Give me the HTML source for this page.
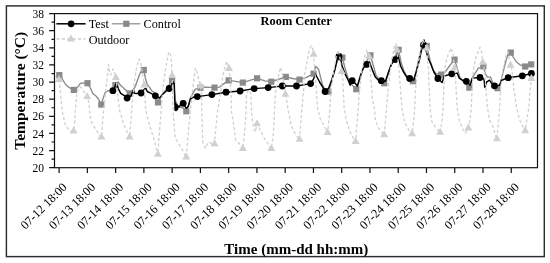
<!DOCTYPE html><html><head><meta charset="utf-8"><title>Room Center</title>
<style>html,body{margin:0;padding:0;background:#fff}svg{display:block}text{font-family:"Liberation Serif","Times New Roman",serif;fill:#000}</style></head><body>
<svg width="550" height="263" viewBox="0 0 550 263">
<rect x="0" y="0" width="550" height="263" fill="#fff"/>
<rect x="6.4" y="5.9" width="537.9" height="250.7" fill="none" stroke="#2e2e2e" stroke-width="1.45"/>
<polyline points="59.3,75.1 61.8,78.0 65.6,84.5 69.5,87.7 73.8,89.9 77.9,87.0 79.9,83.8 81.8,82.9 84.4,83.2 87.5,83.2 90.9,89.0 92.8,93.5 96.0,96.1 98.6,99.3 101.3,104.6 103.2,98.0 105.2,92.5 107.7,91.0 110.3,90.3 113.0,88.0 115.4,85.1 118.1,81.8 120.7,85.6 124.6,88.9 127.8,92.1 129.8,93.4 133.0,90.8 135.6,85.6 138.8,76.6 140.7,72.0 143.8,70.0 145.3,77.9 147.2,84.3 149.8,87.6 151.7,90.8 155.6,93.4 158.0,102.4 160.8,97.3 163.0,94.2 166.0,90.0 169.0,85.0 172.1,81.0 174.0,84.0 175.0,100.0 178.0,106.0 183.0,108.0 186.3,111.3 188.3,106.0 190.3,98.2 195.3,89.1 200.4,87.7 205.4,87.1 214.5,87.6 219.5,87.1 224.6,83.1 228.6,80.4 235.6,81.4 242.8,82.6 249.8,80.4 257.1,78.3 264.9,80.8 271.3,81.7 278.0,79.5 285.8,76.9 292.5,78.5 299.5,79.6 306.5,77.3 313.6,73.7 315.6,66.3 318.6,69.3 320.6,77.3 322.7,85.4 325.5,90.0 328.4,91.7 331.0,84.0 334.0,72.0 337.0,62.0 339.5,57.0 342.4,57.6 345.0,68.0 348.0,78.0 351.0,84.0 356.3,89.2 359.0,82.0 362.0,72.0 366.0,62.0 370.4,55.3 373.4,66.0 376.0,75.0 380.0,81.0 384.2,83.2 387.0,78.0 390.0,68.0 394.0,58.0 398.6,49.8 401.0,62.0 404.0,71.0 408.0,78.0 413.0,81.2 416.0,72.0 419.0,58.0 422.0,46.0 424.5,42.0 426.7,46.0 430.0,60.0 433.0,70.0 436.0,73.7 441.1,74.6 445.1,72.1 450.2,65.0 454.6,59.6 457.2,68.1 460.2,78.1 465.3,83.2 469.3,87.6 471.3,80.2 473.3,76.1 478.4,68.1 483.4,66.4 485.4,74.1 487.5,77.1 490.5,77.1 492.5,82.2 497.5,88.2 500.6,82.2 503.6,70.1 506.2,60.0 508.6,53.0 510.8,52.6 513.5,57.5 516.5,62.0 520.0,64.8 525.2,66.5 531.2,64.4" fill="none" stroke="#8a8a8a" stroke-width="1.35" stroke-linejoin="round"/>
<rect x="56.2" y="72.0" width="6.2" height="6.2" fill="#8a8a8a"/>
<rect x="70.7" y="86.8" width="6.2" height="6.2" fill="#8a8a8a"/>
<rect x="84.4" y="80.1" width="6.2" height="6.2" fill="#8a8a8a"/>
<rect x="98.2" y="101.5" width="6.2" height="6.2" fill="#8a8a8a"/>
<rect x="112.3" y="82.0" width="6.2" height="6.2" fill="#8a8a8a"/>
<rect x="126.7" y="90.3" width="6.2" height="6.2" fill="#8a8a8a"/>
<rect x="140.7" y="66.9" width="6.2" height="6.2" fill="#8a8a8a"/>
<rect x="154.9" y="99.3" width="6.2" height="6.2" fill="#8a8a8a"/>
<rect x="169.0" y="77.9" width="6.2" height="6.2" fill="#8a8a8a"/>
<rect x="183.2" y="108.2" width="6.2" height="6.2" fill="#8a8a8a"/>
<rect x="197.3" y="84.6" width="6.2" height="6.2" fill="#8a8a8a"/>
<rect x="211.4" y="84.5" width="6.2" height="6.2" fill="#8a8a8a"/>
<rect x="225.5" y="77.3" width="6.2" height="6.2" fill="#8a8a8a"/>
<rect x="239.7" y="79.5" width="6.2" height="6.2" fill="#8a8a8a"/>
<rect x="254.0" y="75.2" width="6.2" height="6.2" fill="#8a8a8a"/>
<rect x="268.2" y="78.6" width="6.2" height="6.2" fill="#8a8a8a"/>
<rect x="282.7" y="73.8" width="6.2" height="6.2" fill="#8a8a8a"/>
<rect x="296.4" y="76.5" width="6.2" height="6.2" fill="#8a8a8a"/>
<rect x="310.5" y="70.6" width="6.2" height="6.2" fill="#8a8a8a"/>
<rect x="325.3" y="88.6" width="6.2" height="6.2" fill="#8a8a8a"/>
<rect x="339.3" y="54.5" width="6.2" height="6.2" fill="#8a8a8a"/>
<rect x="353.2" y="86.1" width="6.2" height="6.2" fill="#8a8a8a"/>
<rect x="367.3" y="52.2" width="6.2" height="6.2" fill="#8a8a8a"/>
<rect x="381.1" y="80.1" width="6.2" height="6.2" fill="#8a8a8a"/>
<rect x="395.5" y="46.7" width="6.2" height="6.2" fill="#8a8a8a"/>
<rect x="409.9" y="78.1" width="6.2" height="6.2" fill="#8a8a8a"/>
<rect x="423.6" y="42.9" width="6.2" height="6.2" fill="#8a8a8a"/>
<rect x="438.0" y="71.5" width="6.2" height="6.2" fill="#8a8a8a"/>
<rect x="451.5" y="56.5" width="6.2" height="6.2" fill="#8a8a8a"/>
<rect x="466.2" y="84.5" width="6.2" height="6.2" fill="#8a8a8a"/>
<rect x="480.3" y="63.3" width="6.2" height="6.2" fill="#8a8a8a"/>
<rect x="494.4" y="85.1" width="6.2" height="6.2" fill="#8a8a8a"/>
<rect x="507.7" y="49.5" width="6.2" height="6.2" fill="#8a8a8a"/>
<rect x="522.1" y="63.4" width="6.2" height="6.2" fill="#8a8a8a"/>
<rect x="528.1" y="61.3" width="6.2" height="6.2" fill="#8a8a8a"/>
<polyline points="112.9,90.7 114.5,88.0 116.2,83.0 118.1,88.2 120.7,93.4 123.9,95.3 127.1,98.0 131.0,96.0 133.4,89.5 134.3,93.4 137.0,93.5 141.1,93.0 144.6,88.9 146.0,88.5 147.2,91.5 151.1,93.4 155.4,95.8 159.5,98.0 163.4,93.4 169.2,88.5 171.5,85.0 173.1,82.1 174.3,84.0 175.1,110.3 175.5,103.0 176.1,110.6 176.8,104.5 177.4,109.5 178.2,106.0 179.2,107.0 180.5,104.5 183.2,103.3 186.3,108.3 188.3,106.3 190.3,99.2 193.3,97.2 197.3,96.6 211.9,94.6 226.0,92.2 240.1,91.0 254.2,88.6 268.2,87.6 282.3,86.0 296.5,86.0 310.6,83.6 313.0,80.0 315.6,74.6 317.5,78.0 319.6,82.0 322.7,87.1 325.1,91.5 328.7,88.1 331.7,80.0 334.8,70.0 337.0,60.0 339.0,54.5 340.5,58.0 342.1,66.0 345.2,74.1 348.2,80.2 350.2,85.2 352.2,80.7 355.0,83.0 357.3,86.2 360.3,76.1 363.3,68.1 366.7,64.4 369.5,62.0 372.4,70.1 375.4,77.1 378.4,80.2 381.3,80.7 385.5,81.2 388.5,72.1 391.5,64.0 395.2,59.6 397.6,54.0 400.6,66.0 403.6,72.1 406.7,77.1 409.7,78.5 413.7,80.2 416.7,70.1 419.4,60.0 421.5,50.0 423.0,44.0 424.0,40.0 424.6,44.0 425.5,48.0 428.0,58.0 430.8,64.0 433.9,72.0 437.9,78.5 442.1,82.6 444.1,76.1 451.8,73.8 457.2,73.1 459.2,78.1 462.3,80.2 466.3,81.3 470.3,85.2 472.3,78.1 480.0,77.5 484.0,79.2 484.8,87.2 486.5,82.2 489.5,80.2 491.5,83.2 494.5,85.8 499.6,85.2 501.6,80.2 508.2,77.7 522.3,75.8 531.4,73.5" fill="none" stroke="#000" stroke-width="1.45" stroke-linejoin="round"/>
<circle cx="112.9" cy="90.7" r="3.4" fill="#000"/>
<circle cx="127.1" cy="98.0" r="3.4" fill="#000"/>
<circle cx="141.1" cy="93.0" r="3.4" fill="#000"/>
<circle cx="155.4" cy="95.8" r="3.4" fill="#000"/>
<circle cx="169.2" cy="88.5" r="3.4" fill="#000"/>
<circle cx="183.2" cy="103.3" r="3.4" fill="#000"/>
<circle cx="197.3" cy="96.6" r="3.4" fill="#000"/>
<circle cx="211.9" cy="94.6" r="3.4" fill="#000"/>
<circle cx="226.0" cy="92.2" r="3.4" fill="#000"/>
<circle cx="240.1" cy="91.0" r="3.4" fill="#000"/>
<circle cx="254.2" cy="88.6" r="3.4" fill="#000"/>
<circle cx="268.2" cy="87.6" r="3.4" fill="#000"/>
<circle cx="282.3" cy="86.0" r="3.4" fill="#000"/>
<circle cx="296.5" cy="86.0" r="3.4" fill="#000"/>
<circle cx="310.6" cy="83.6" r="3.4" fill="#000"/>
<circle cx="325.1" cy="91.5" r="3.4" fill="#000"/>
<circle cx="339.0" cy="56.5" r="3.4" fill="#000"/>
<circle cx="352.2" cy="80.7" r="3.4" fill="#000"/>
<circle cx="366.7" cy="64.4" r="3.4" fill="#000"/>
<circle cx="381.3" cy="80.7" r="3.4" fill="#000"/>
<circle cx="395.2" cy="59.6" r="3.4" fill="#000"/>
<circle cx="409.7" cy="78.5" r="3.4" fill="#000"/>
<circle cx="423.5" cy="45.0" r="3.4" fill="#000"/>
<circle cx="437.9" cy="78.5" r="3.4" fill="#000"/>
<circle cx="451.8" cy="73.8" r="3.4" fill="#000"/>
<circle cx="466.3" cy="81.3" r="3.4" fill="#000"/>
<circle cx="480.0" cy="77.5" r="3.4" fill="#000"/>
<circle cx="494.5" cy="85.8" r="3.4" fill="#000"/>
<circle cx="508.2" cy="77.7" r="3.4" fill="#000"/>
<circle cx="522.3" cy="75.8" r="3.4" fill="#000"/>
<circle cx="531.4" cy="73.5" r="3.4" fill="#000"/>
<polyline points="59.0,79.5 60.0,88.0 62.0,110.0 65.0,124.0 69.0,130.0 73.6,131.5 74.6,122.0 75.5,110.0 76.5,97.0 78.0,89.0 79.8,86.5 82.0,88.5 85.0,93.5 87.2,96.5 89.0,103.0 89.8,112.0 91.3,122.0 96.3,130.0 101.4,137.5 102.4,124.0 103.6,110.0 105.7,91.0 107.0,80.0 108.6,64.5 109.6,72.8 110.6,75.0 112.9,69.0 114.5,72.0 115.8,77.4 117.5,92.0 119.5,110.0 123.5,124.0 129.6,137.5 130.6,124.0 131.6,110.0 134.3,82.3 136.5,68.0 138.8,59.0 140.5,62.0 142.0,70.0 144.2,85.0 145.7,110.0 149.8,126.0 154.8,142.0 157.9,155.0 159.0,138.0 161.0,112.0 163.2,85.0 166.0,66.0 168.6,53.0 170.1,52.0 171.3,60.0 172.1,75.3 173.1,112.0 175.2,138.0 180.2,146.0 186.3,157.5 188.3,132.0 190.2,112.0 192.3,92.0 194.3,76.0 195.3,68.3 197.0,72.0 198.8,80.0 200.4,86.0 201.4,92.0 201.8,112.0 202.8,142.0 205.4,148.3 208.4,142.0 214.5,144.5 215.5,132.0 217.5,112.0 219.5,100.0 223.5,72.0 226.6,61.2 229.0,68.3 230.6,84.0 231.6,112.0 233.6,124.0 235.6,140.0 239.7,144.0 242.8,149.0 244.7,132.0 246.0,112.0 246.5,94.0 248.5,90.0 250.8,93.0 251.6,112.0 252.6,122.0 254.3,130.0 255.3,132.0 257.0,123.7 260.2,130.0 264.2,138.0 271.3,149.0 273.2,136.0 273.9,124.0 274.6,108.0 275.6,92.2 277.0,83.4 280.3,67.3 283.3,77.3 285.4,94.2 286.4,98.2 288.4,112.0 291.4,126.0 295.4,134.0 299.5,140.0 300.9,122.0 301.5,112.0 303.5,92.2 304.5,75.3 307.5,59.2 309.5,49.0 311.3,45.8 312.6,48.0 313.6,54.2 315.6,80.0 317.6,108.3 318.6,112.0 320.6,120.0 324.7,127.0 327.6,133.0 328.7,122.0 329.7,112.0 330.7,92.2 333.0,75.0 336.0,58.0 338.3,50.1 340.0,58.0 341.6,71.5 342.8,78.0 343.5,95.0 344.2,108.0 346.2,120.0 350.2,132.2 355.6,142.0 356.9,124.0 358.3,108.0 359.5,90.0 362.0,70.0 365.0,55.0 367.0,50.0 369.0,56.2 371.0,80.0 372.5,100.0 374.4,108.0 375.4,120.0 378.4,128.0 384.1,135.3 385.5,120.0 386.5,108.0 388.0,90.0 391.0,65.0 394.0,48.0 396.0,43.5 396.9,50.0 399.0,70.0 400.5,90.0 402.0,108.0 404.6,122.0 408.7,130.0 412.1,134.3 413.7,120.0 414.7,108.0 415.5,90.0 418.0,65.0 421.0,48.0 423.0,40.0 426.8,48.1 428.5,70.0 430.0,108.0 432.0,122.0 436.0,128.0 440.1,133.0 442.1,120.0 443.1,108.0 444.0,85.0 445.1,66.3 448.0,55.0 451.2,48.1 453.0,55.0 454.6,67.7 455.2,72.1 456.2,90.0 457.2,108.0 459.2,120.0 462.3,128.0 465.3,133.2 468.3,128.5 470.3,118.0 471.3,108.0 472.0,90.0 473.3,70.3 476.0,57.0 480.0,47.1 481.5,52.0 482.8,62.2 484.4,70.0 486.0,90.0 487.5,108.0 489.5,120.0 493.5,128.0 496.9,139.3 498.5,120.0 499.6,108.0 500.5,90.0 503.0,70.0 506.0,55.0 508.0,52.0 510.6,65.2 511.7,68.0 514.0,90.0 516.7,108.0 519.7,120.0 522.7,126.0 525.2,131.3 526.8,120.0 528.8,108.0 530.0,92.0 531.4,78.5" fill="none" stroke="#d0d0d0" stroke-width="1.3" stroke-dasharray="3.2 2.2" stroke-linejoin="round"/>
<polygon points="59.0,75.1 55.0,82.1 63.0,82.1" fill="#d0d0d0"/>
<polygon points="73.6,126.4 69.6,133.4 77.6,133.4" fill="#d0d0d0"/>
<polygon points="87.2,92.1 83.2,99.1 91.2,99.1" fill="#d0d0d0"/>
<polygon points="101.4,132.4 97.4,139.4 105.4,139.4" fill="#d0d0d0"/>
<polygon points="115.8,73.0 111.8,80.0 119.8,80.0" fill="#d0d0d0"/>
<polygon points="129.6,132.4 125.6,139.4 133.6,139.4" fill="#d0d0d0"/>
<polygon points="144.2,80.6 140.2,87.6 148.2,87.6" fill="#d0d0d0"/>
<polygon points="157.9,149.8 153.9,156.8 161.9,156.8" fill="#d0d0d0"/>
<polygon points="172.1,70.9 168.1,77.9 176.1,77.9" fill="#d0d0d0"/>
<polygon points="186.3,152.4 182.3,159.4 190.3,159.4" fill="#d0d0d0"/>
<polygon points="200.4,81.6 196.4,88.6 204.4,88.6" fill="#d0d0d0"/>
<polygon points="214.5,139.3 210.5,146.3 218.5,146.3" fill="#d0d0d0"/>
<polygon points="229.0,63.9 225.0,70.9 233.0,70.9" fill="#d0d0d0"/>
<polygon points="242.8,143.9 238.8,150.9 246.8,150.9" fill="#d0d0d0"/>
<polygon points="257.0,119.3 253.0,126.3 261.0,126.3" fill="#d0d0d0"/>
<polygon points="271.3,143.9 267.3,150.9 275.3,150.9" fill="#d0d0d0"/>
<polygon points="285.4,89.8 281.4,96.8 289.4,96.8" fill="#d0d0d0"/>
<polygon points="299.5,134.8 295.5,141.8 303.5,141.8" fill="#d0d0d0"/>
<polygon points="313.6,49.8 309.6,56.8 317.6,56.8" fill="#d0d0d0"/>
<polygon points="327.6,128.0 323.6,135.0 331.6,135.0" fill="#d0d0d0"/>
<polygon points="341.6,67.1 337.6,74.1 345.6,74.1" fill="#d0d0d0"/>
<polygon points="355.6,136.9 351.6,143.9 359.6,143.9" fill="#d0d0d0"/>
<polygon points="369.0,51.8 365.0,58.8 373.0,58.8" fill="#d0d0d0"/>
<polygon points="384.1,130.2 380.1,137.2 388.1,137.2" fill="#d0d0d0"/>
<polygon points="396.9,45.6 392.9,52.6 400.9,52.6" fill="#d0d0d0"/>
<polygon points="412.1,129.2 408.1,136.2 416.1,136.2" fill="#d0d0d0"/>
<polygon points="426.8,43.7 422.8,50.7 430.8,50.7" fill="#d0d0d0"/>
<polygon points="440.1,127.8 436.1,134.8 444.1,134.8" fill="#d0d0d0"/>
<polygon points="454.6,63.3 450.6,70.3 458.6,70.3" fill="#d0d0d0"/>
<polygon points="468.3,123.4 464.3,130.4 472.3,130.4" fill="#d0d0d0"/>
<polygon points="482.8,57.8 478.8,64.8 486.8,64.8" fill="#d0d0d0"/>
<polygon points="496.9,134.2 492.9,141.2 500.9,141.2" fill="#d0d0d0"/>
<polygon points="510.6,60.8 506.6,67.8 514.6,67.8" fill="#d0d0d0"/>
<polygon points="525.2,126.2 521.2,133.2 529.2,133.2" fill="#d0d0d0"/>
<polygon points="531.4,74.1 527.4,81.1 535.4,81.1" fill="#d0d0d0"/>
<rect x="54.5" y="13.6" width="483.0" height="154.1" fill="none" stroke="#111" stroke-width="1.2"/>
<path d="M49.2 167.70H54.5M51.5 159.14H54.5M49.2 150.58H54.5M51.5 142.02H54.5M49.2 133.46H54.5M51.5 124.89H54.5M49.2 116.33H54.5M51.5 107.77H54.5M49.2 99.21H54.5M51.5 90.65H54.5M49.2 82.09H54.5M51.5 73.53H54.5M49.2 64.97H54.5M51.5 56.41H54.5M49.2 47.84H54.5M51.5 39.28H54.5M49.2 30.72H54.5M51.5 22.16H54.5M49.2 13.60H54.5M59.10 167.7V173.0M87.36 167.7V173.0M115.62 167.7V173.0M143.88 167.7V173.0M172.14 167.7V173.0M200.40 167.7V173.0M228.66 167.7V173.0M256.92 167.7V173.0M285.18 167.7V173.0M313.44 167.7V173.0M341.70 167.7V173.0M369.96 167.7V173.0M398.22 167.7V173.0M426.48 167.7V173.0M454.74 167.7V173.0M483.00 167.7V173.0M511.26 167.7V173.0" stroke="#111" stroke-width="1.2" fill="none"/>
<text transform="translate(44.1 171.7) scale(0.96 1.07)" font-size="12" text-anchor="end">20</text>
<text transform="translate(44.1 154.6) scale(0.96 1.07)" font-size="12" text-anchor="end">22</text>
<text transform="translate(44.1 137.5) scale(0.96 1.07)" font-size="12" text-anchor="end">24</text>
<text transform="translate(44.1 120.3) scale(0.96 1.07)" font-size="12" text-anchor="end">26</text>
<text transform="translate(44.1 103.2) scale(0.96 1.07)" font-size="12" text-anchor="end">28</text>
<text transform="translate(44.1 86.1) scale(0.96 1.07)" font-size="12" text-anchor="end">30</text>
<text transform="translate(44.1 69.0) scale(0.96 1.07)" font-size="12" text-anchor="end">32</text>
<text transform="translate(44.1 51.8) scale(0.96 1.07)" font-size="12" text-anchor="end">34</text>
<text transform="translate(44.1 34.7) scale(0.96 1.07)" font-size="12" text-anchor="end">36</text>
<text transform="translate(44.1 17.6) scale(0.96 1.07)" font-size="12" text-anchor="end">38</text>
<text transform="translate(67.7 187.8) rotate(-45)" font-size="12.3" text-anchor="end">07-12 18:00</text>
<text transform="translate(96.0 187.8) rotate(-45)" font-size="12.3" text-anchor="end">07-13 18:00</text>
<text transform="translate(124.2 187.8) rotate(-45)" font-size="12.3" text-anchor="end">07-14 18:00</text>
<text transform="translate(152.5 187.8) rotate(-45)" font-size="12.3" text-anchor="end">07-15 18:00</text>
<text transform="translate(180.7 187.8) rotate(-45)" font-size="12.3" text-anchor="end">07-16 18:00</text>
<text transform="translate(209.0 187.8) rotate(-45)" font-size="12.3" text-anchor="end">07-17 18:00</text>
<text transform="translate(237.3 187.8) rotate(-45)" font-size="12.3" text-anchor="end">07-18 18:00</text>
<text transform="translate(265.5 187.8) rotate(-45)" font-size="12.3" text-anchor="end">07-19 18:00</text>
<text transform="translate(293.8 187.8) rotate(-45)" font-size="12.3" text-anchor="end">07-20 18:00</text>
<text transform="translate(322.0 187.8) rotate(-45)" font-size="12.3" text-anchor="end">07-21 18:00</text>
<text transform="translate(350.3 187.8) rotate(-45)" font-size="12.3" text-anchor="end">07-22 18:00</text>
<text transform="translate(378.6 187.8) rotate(-45)" font-size="12.3" text-anchor="end">07-23 18:00</text>
<text transform="translate(406.8 187.8) rotate(-45)" font-size="12.3" text-anchor="end">07-24 18:00</text>
<text transform="translate(435.1 187.8) rotate(-45)" font-size="12.3" text-anchor="end">07-25 18:00</text>
<text transform="translate(463.3 187.8) rotate(-45)" font-size="12.3" text-anchor="end">07-26 18:00</text>
<text transform="translate(491.6 187.8) rotate(-45)" font-size="12.3" text-anchor="end">07-27 18:00</text>
<text transform="translate(519.9 187.8) rotate(-45)" font-size="12.3" text-anchor="end">07-28 18:00</text>
<text x="296.2" y="25.3" font-size="12.4" font-weight="bold" text-anchor="middle">Room Center</text>
<text x="296.3" y="254.0" font-size="15" font-weight="bold" text-anchor="middle">Time (mm-dd hh:mm)</text>
<text transform="translate(25.4 90.8) rotate(-90)" font-size="15.55" font-weight="bold" text-anchor="middle">Temperature (°C)</text>
<path d="M56.4 23.8H85.6" stroke="#000" stroke-width="1.5"/><circle cx="71.1" cy="23.8" r="3.4" fill="#000"/>
<text x="88.7" y="27.9" font-size="12.2">Test</text>
<path d="M111.8 23.8H140.3" stroke="#8a8a8a" stroke-width="1.2"/><rect x="123.2" y="20.7" width="6.2" height="6.2" fill="#8a8a8a"/>
<text x="143.6" y="27.9" font-size="12.2">Control</text>
<path d="M56.4 39.0H85.6" stroke="#d0d0d0" stroke-width="1.3" stroke-dasharray="3.2 2.2"/><polygon points="71.0,34.6 67.0,41.6 75.0,41.6" fill="#d0d0d0"/>
<text x="88.7" y="43.7" font-size="12.2">Outdoor</text>
</svg></body></html>
